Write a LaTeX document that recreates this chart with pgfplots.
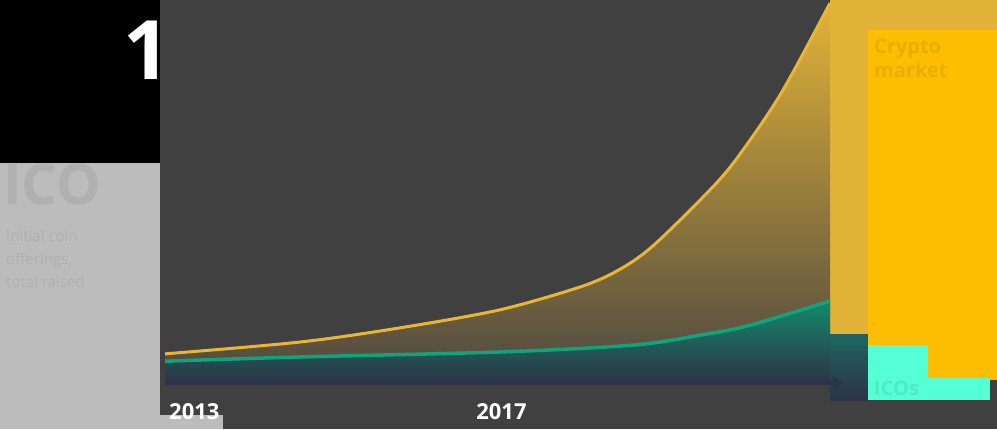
\documentclass[border=0pt]{standalone}
\usepackage{fontspec}
\setmainfont{Open Sans}
\usepackage{pgfplots}
\pgfplotsset{compat=1.18}
\usetikzlibrary{arrows.meta}

\definecolor{bgdark}{HTML}{404040}
\definecolor{goldline}{HTML}{E8B535}
\definecolor{goldpanel}{HTML}{E2B337}
\definecolor{goldmid}{HTML}{C49A3A}
\definecolor{goldlow}{HTML}{4C4741}
\definecolor{yellowpanel}{HTML}{FDBD00}
\definecolor{tealline}{HTML}{10A47D}
\definecolor{tealtop}{HTML}{138A6C}
\definecolor{tealmid}{HTML}{1F6460}
\definecolor{mint}{HTML}{55FFD5}
\definecolor{navy}{HTML}{2C3347}
\definecolor{greypanel}{HTML}{BCBCBC}
\definecolor{greytext}{HTML}{B0B0B0}

\pgfplotstableread{
year  value
2013.00  7.6
2014.76 10.7
2016.06 14.4
2017.36 19.1
2018.41 25.1
2018.89 29.3
2019.32 35.2
2019.97 47.8
2020.40 57.4
2021.01 75.2
2021.66 99.2
}\goldtable
\pgfplotstableread{
year  value
2013.00  5.7
2014.76  6.8
2017.36  8.1
2019.10  9.9
2019.97 12.5
2020.62 15.1
2021.66 21.4
}\tealtable

\begin{document}
\begin{tikzpicture}[x=1pt,y=1pt]
\path[use as bounding box] (0,0) rectangle (997,429);
\clip (0,0) rectangle (997,429);

% background panels
\fill[bgdark] (0,0) rectangle (997,429);
\fill[black] (0,266) rectangle (160,429);
\fill[greypanel] (0,0) rectangle (160,266);
\fill[greypanel] (160,0) rectangle (223,14);
\fill[goldpanel] (830,94) rectangle (997,429);
\shade[top color=tealmid, bottom color=navy] (830,29) rectangle (868,94);
\fill[tealmid] (830,84) rectangle (928,94);
\fill[yellowpanel] (868,49) rectangle (997,399);
\fill[mint] (868,29) rectangle (928,84);
\fill[mint] (928,29) rectangle (990,51);

% left texts
\begin{scope}
\clip (0,266) rectangle (160,429);
\node[anchor=base east, inner sep=0, text=white,
      font=\bfseries\fontsize{82}{82}\selectfont] at (171,349) {1};
\end{scope}
\node[anchor=base west, inner sep=0, text=greytext,
      font=\bfseries\fontsize{56}{56}\selectfont] at (3,224) {ICO};
\node[anchor=north west, inner sep=0, text=greytext, align=left,
      font=\fontsize{15}{23}\selectfont] at (6,199) {Initial coin\\offerings,\\total raised};

% right texts
\node[anchor=north west, inner sep=0, text=yellowpanel!92!black, align=left,
      font=\bfseries\fontsize{20}{24}\selectfont] at (874,390) {Crypto\\market};
\node[anchor=base west, inner sep=0, text=mint!92!black,
      font=\bfseries\fontsize{20}{20}\selectfont] at (874,34) {ICOs};

\begin{axis}[
    at={(165pt,46pt)}, anchor=south west,
    scale only axis, width=665pt, height=383pt,
    xmin=2013, xmax=2021.66, ymin=0, ymax=100,
    axis line style={draw=none},
    ytick=\empty,
    xtick={2013,2017}, xticklabels={2013,2017},
    major tick length=0pt,
    xticklabel style={anchor=north west, inner sep=0pt, text=white,
      font=\bfseries\fontsize{22}{22}\selectfont, xshift=4pt, yshift=-20pt},
    clip=false,
]
% filled areas
\addplot[draw=none, top color=goldpanel, middle color=goldmid, bottom color=goldlow, smooth]
  table[x=year, y=value] {\goldtable} \closedcycle;
\addplot[draw=none, top color=tealtop, middle color=tealmid, bottom color=navy, smooth]
  table[x=year, y=value] {\tealtable} \closedcycle;
% lines
\addplot[goldline, line width=3pt, smooth] table[x=year, y=value] {\goldtable};
\addplot[tealline, line width=3.5pt, smooth] table[x=year, y=value] {\tealtable};
% x axis arrow
\draw[navy, line width=4pt, -{Triangle[length=10pt,width=14pt]}]
  (axis cs:2013,0) -- (axis cs:2021.83,0);
\end{axis}
\end{tikzpicture}
\end{document}
